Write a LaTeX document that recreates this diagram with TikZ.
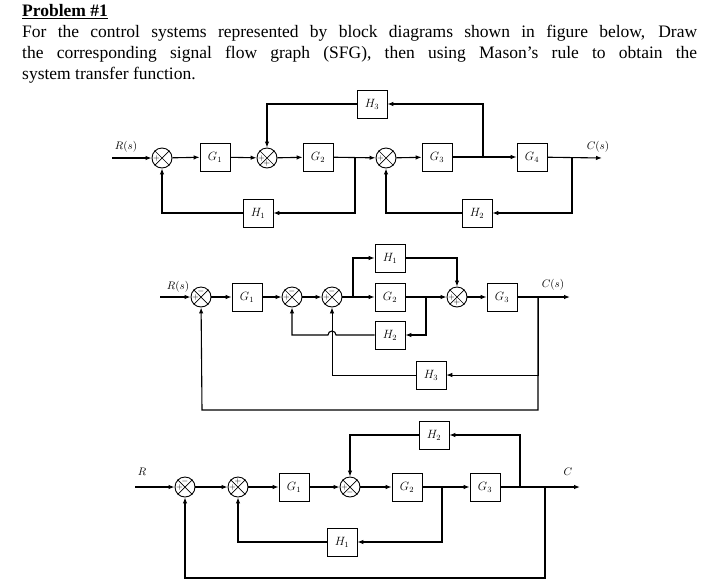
\documentclass[tikz,border=0pt]{standalone}
\usepackage{fontspec}
\setmainfont{Liberation Serif}
\usetikzlibrary{arrows.meta}
\begin{document}
\begin{tikzpicture}[x=1pt,y=-1pt,
  sig/.style={line width=1.1pt},
  ar/.style={sig,-{Latex[length=6pt,width=4.5pt]}},
  blk/.style={draw,line width=0.7pt,minimum width=30pt,minimum height=28pt,inner sep=0pt,font=\fontsize{12}{12}\selectfont},
  sm/.style={draw,circle,line width=0.9pt,minimum size=20pt,inner sep=0pt},
  sg/.style={font=\fontsize{8}{8}\selectfont,inner sep=0pt},
  lab/.style={font=\fontsize{11}{11}\selectfont,inner sep=1pt}]
\useasboundingbox (0,0) rectangle (720,582);
\newcommand{\sumj}[2]{\node[sm] (#1) at (#2) {};
  \draw[line width=0.7pt] (#1.45)--(#1.225) (#1.135)--(#1.315);}
% header
\node[anchor=west,font=\fontsize{17.5}{18}\selectfont\bfseries,inner sep=0] (title) at (22,12) {\underline{Problem \#1}};
\node[anchor=west,font=\fontsize{17.5}{18}\selectfont,inner sep=0] (l1) at (22,33) {\makebox[675pt][s]{For the control systems represented by block diagrams shown in figure below, Draw}};
\node[anchor=west,font=\fontsize{17.5}{18}\selectfont,inner sep=0] (l2) at (22,54) {\makebox[675pt][s]{the corresponding signal flow graph (SFG), then using Mason's rule to obtain the}};
\node[anchor=west,font=\fontsize{17.5}{18}\selectfont,inner sep=0] (l3) at (22,75) {system transfer function.};

% ===== Diagram 1 =====
\coordinate (in1) at (112,158);
\node[lab] (R1) at (126,147) {$R(s)$};
\sumj{a1}{162,158}
\node[blk] (G1a) at (215,157) {$G_1$};
\sumj{a2}{267,158}
\node[blk] (G2a) at (318,157) {$G_2$};
\sumj{a3}{386,158}
\node[blk] (G3a) at (437,157) {$G_3$};
\node[blk] (G4a) at (532,157) {$G_4$};
\node[blk] (H1a) at (258,213) {$H_1$};
\node[blk] (H2a) at (477,213) {$H_2$};
\node[blk] (H3a) at (372,104) {$H_3$};
\coordinate (out1) at (602,158);
\node[lab] (C1) at (598,147) {$C(s)$};
\node[sg] at ([xshift=-5.5pt]a1.center) {$+$};
\node[sg] at ([xshift=-5.5pt]a2.center) {$+$};
\node[sg] at ([yshift=-5.5pt]a2.center) {$+$};
\node[sg] at ([xshift=-5.5pt]a3.center) {$+$};
\draw[ar] (in1) -- (a1);
\draw[ar] (a1) -- (G1a);
\draw[ar] (G1a) -- (a2);
\draw[ar] (a2) -- (G2a);
\draw[ar] (G2a) -- (a3);
\draw[ar] (a3) -- (G3a);
\draw[ar] (G3a) -- (G4a);
\draw[ar] (G4a) -- (out1);
\draw[ar] (355,158) |- (H1a);
\draw[ar] (H1a) -| (a1);
\draw[ar] (572,158) |- (H2a);
\draw[ar] (H2a) -| (a3);
\draw[ar] (483,158) |- (H3a);
\draw[ar] (H3a) -| (a2);

% ===== Diagram 2 =====
\coordinate (in2) at (160,297);
\node[lab] (R2) at (178,287) {$R(s)$};
\sumj{b1}{201,297}
\node[blk] (G1b) at (247,297) {$G_1$};
\sumj{b2}{292,297}
\sumj{b3}{332,297}
\node[blk] (H1b) at (390,258) {$H_1$};
\node[blk] (G2b) at (390,297) {$G_2$};
\node[blk] (H2b) at (390,335) {$H_2$};
\sumj{b4}{457,297}
\node[blk] (G3b) at (502,297) {$G_3$};
\node[blk] (H3b) at (431,375) {$H_3$};
\coordinate (out2) at (570,297);
\node[lab] (C2) at (553,285) {$C(s)$};
\foreach \s in {b1,b2,b3}{
  \node[sg] at ([xshift=-5.5pt]\s.center) {$+$};
  \node[sg] at ([yshift=5.5pt]\s.center) {$-$};}
\node[sg] at ([xshift=-5.5pt]b4.center) {$+$};
\node[sg] at ([yshift=-5.5pt]b4.center) {$+$};
\draw[ar] (in2) -- (b1);
\draw[ar] (b1) -- (G1b);
\draw[ar] (G1b) -- (b2);
\draw[ar] (b2) -- (b3);
\draw[ar] (b3) -- (G2b);
\draw[ar] (353,297) |- (H1b);
\draw[ar] (H1b) -| (b4);
\draw[ar] (G2b) -- (b4);
\draw[ar] (b4) -- (G3b);
\draw[ar] (G3b) -- (out2);
\draw[ar] (426,297) |- (H2b);
\draw[ar] (H2b.west) -- (336,335) arc (0:-180:4) -| (b2);
\draw[ar,line width=0.8pt] (538,297) |- (H3b);
\draw[ar,line width=0.8pt] (H3b) -| (b3);
\draw[ar] (538,297) |- (202,410) -- (b1);

% ===== Diagram 3 =====
\coordinate (in3) at (135,487);
\node[lab] (R3) at (142,472) {$R$};
\sumj{c1}{185,487}
\sumj{c2}{238,487}
\node[blk] (G1c) at (294,487) {$G_1$};
\sumj{c3}{350,487}
\node[blk] (G2c) at (407,487) {$G_2$};
\node[blk] (G3c) at (485,487) {$G_3$};
\node[blk] (H1c) at (342,542) {$H_1$};
\node[blk] (H2c) at (434,435) {$H_2$};
\coordinate (out3) at (580,487);
\node[lab] (C3) at (568,472) {$C$};
\node[sg] at ([xshift=-5.5pt]c1.center) {$+$};
\node[sg] at ([yshift=5.5pt]c1.center) {$-$};
\node[sg] at ([xshift=-5.5pt]c2.center) {$+$};
\node[sg] at ([yshift=5.5pt]c2.center) {$+$};
\node[sg] at ([xshift=-5.5pt]c3.center) {$+$};
\node[sg] at ([yshift=-5.5pt]c3.center) {$-$};
\draw[ar] (in3) -- (c1);
\draw[ar] (c1) -- (c2);
\draw[ar] (c2) -- (G1c);
\draw[ar] (G1c) -- (c3);
\draw[ar] (c3) -- (G2c);
\draw[ar] (G2c) -- (G3c);
\draw[ar] (G3c) -- (out3);
\draw[ar] (442,487) |- (H1c);
\draw[ar] (H1c) -| (c2);
\draw[ar] (520,487) |- (H2c);
\draw[ar] (H2c) -| (c3);
\draw[ar] (545,487) |- (185,578) -- (c1);
\end{tikzpicture}
\end{document}
